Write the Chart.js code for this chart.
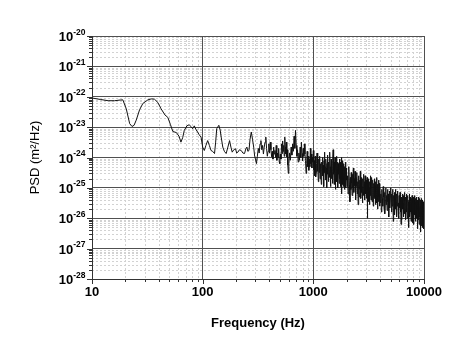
<!DOCTYPE html>
<html><head><meta charset="utf-8">
<script src="https://cdn.jsdelivr.net/npm/chart.js@4/dist/chart.umd.min.js"></script>
<style>html,body{margin:0;padding:0;background:#fff}#wrap{width:474px;height:355px}</style>
</head><body><div id="wrap"><canvas id="c" width="474" height="355"></canvas></div>
<script>
// ---- data ----
const freqHz = [
  10,12,14,16,18,19,20.4,21.9,23,24,
  25.1,26.9,28.8,32,34.3,36.7,39.3,42.1,45.7,48.4,
  51.2,53.7,57.9,61.2,63.6,66,68.2,72,75.7,78,
  81.2,84,87,90,93,96.7,100,103.5,107,111,
  115,119,123,128,131,134,140,144,147,152,
  157,163,169,175,180,185,191,198,203,208,
  215,223,231,239,245,251,256,262,268,275,
  282,289,295,
  300,306,312,318,324,330,336,342,348,354,
  360,366,372,378,384,390,396,402,408,414,
  420,426,432,438,444,450,456,462,468,474,
  480,486,492,498,504,510,516,522,528,534,
  540,546,552,558,564,570,576,582,588,594,
  600,610,620,630,640,650,660,670,680,690,
  700,710,720,730,740,750,760,770,780,790,
  800,810,820,830,840,850,860,870,880,890,
  900,910,920,930,940,950,960,970,980,990,
  1000,1010,1020,1030,1040,1050,1060,1070,1080,1090,
  1100,1110,1120,1130,1140,1150,1160,1170,1180,1190,
  1200,1210,1220,1230,1240,1250,1260,1270,1280,1290,
  1300,1310,1320,1330,1340,1350,1360,1370,1380,1390,
  1400,1410,1420,1430,1440,1450,1460,1470,1480,1490,
  1500,1510,1520,1530,1540,1550,1560,1570,1580,1590,
  1600,1610,1620,1630,1640,1650,1660,1670,1680,1690,
  1700,1710,1720,1730,1740,1750,1760,1770,1780,1790,
  1800,1810,1820,1830,1840,1850,1860,1870,1880,1890,
  1900,1910,1920,1930,1940,1950,1960,1970,1980,1990,
  2000,2020,2040,2060,2080,2100,2120,2140,2160,2180,
  2200,2220,2240,2260,2280,2300,2320,2340,2360,2380,
  2400,2420,2440,2460,2480,2500,2520,2540,2560,2580,
  2600,2620,2640,2660,2680,2700,2720,2740,2760,2780,
  2800,2820,2840,2860,2880,2900,2920,2940,2960,2980,
  3000,3020,3040,3060,3080,3100,3120,3140,3160,3180,
  3200,3220,3240,3260,3280,3300,3320,3340,3360,3380,
  3400,3420,3440,3460,3480,3500,3520,3540,3560,3580,
  3600,3620,3640,3660,3680,3700,3720,3740,3760,3780,
  3800,3820,3840,3860,3880,3900,3920,3940,3960,3980,
  4000,4040,4080,4120,4160,4200,4240,4280,4320,4360,
  4400,4440,4480,4520,4560,4600,4640,4680,4720,4760,
  4800,4840,4880,4920,4960,5000,5040,5080,5120,5160,
  5200,5240,5280,5320,5360,5400,5440,5480,5520,5560,
  5600,5640,5680,5720,5760,5800,5840,5880,5920,5960,
  6000,6040,6080,6120,6160,6200,6240,6280,6320,6360,
  6400,6440,6480,6520,6560,6600,6640,6680,6720,6760,
  6800,6840,6880,6920,6960,7000,7040,7080,7120,7160,
  7200,7240,7280,7320,7360,7400,7440,7480,7520,7560,
  7600,7640,7680,7720,7760,7800,7840,7880,7920,7960,
  8000,8040,8080,8120,8160,8200,8240,8280,8320,8360,
  8400,8440,8480,8520,8560,8600,8640,8680,8720,8760,
  8800,8840,8880,8920,8960,9000,9040,9080,9120,9160,
  9200,9240,9280,9320,9360,9400,9440,9480,9520,9560,
  9600,9640,9680,9720,9760,9800,9840,9880,9920,9960,
  10000
];
const psd = [
  9.1e-23,8.1e-23,7.4e-23,7.4e-23,7.8e-23,7.9e-23,4.0e-23,1.3e-23,1.05e-23,1.15e-23,
  1.7e-23,3.7e-23,6.0e-23,7.9e-23,8.5e-23,8.3e-23,6.5e-23,4.0e-23,2.5e-23,2.1e-23,
  1.2e-23,7.2e-24,6.6e-24,5.0e-24,3.2e-24,4.5e-24,7.8e-24,1.1e-23,1.2e-23,1.05e-23,
  8.9e-24,1.1e-23,8.3e-24,6.9e-24,5.6e-24,4.7e-24,2.2e-24,1.7e-24,2.5e-24,3.6e-24,
  2.5e-24,1.7e-24,1.6e-24,1.35e-24,3.2e-24,8.9e-24,1.15e-23,7.9e-24,4.7e-24,2.2e-24,
  1.6e-24,1.35e-24,2.2e-24,3.6e-24,2.2e-24,1.5e-24,1.8e-24,1.95e-24,1.4e-24,1.5e-24,
  1.8e-24,1.7e-24,1.4e-24,1.35e-24,1.9e-24,2.2e-24,1.6e-24,1.7e-24,4.0e-24,6.9e-24,
  4.0e-24,2.2e-24,1.1e-24,
  8.9e-25,6.3e-25,1.1e-24,2.0e-24,1.4e-24,2.8e-24,3.6e-24,1.8e-24,2.5e-24,1.3e-24,
  2.2e-24,3.2e-24,4.7e-24,2.0e-24,1.1e-24,1.6e-24,2.8e-24,1.4e-24,3.2e-24,1.8e-24,
  1.05e-24,1.6e-24,8.9e-25,2.2e-24,1.3e-24,1.7e-24,1.0e-24,2.5e-24,8.1e-25,1.4e-24,
  1.0e-24,2.0e-24,7.1e-25,6.3e-25,1.3e-24,8.9e-25,2.8e-24,1.35e-24,3.5e-24,1.6e-24,
  2.5e-24,1.1e-24,4.7e-24,2.2e-24,1.3e-24,3.2e-24,1.05e-24,1.8e-24,5.6e-25,3.0e-25,
  6.3e-25,1.4e-24,8.1e-25,2.2e-24,1.2e-24,2.8e-24,1.6e-24,5.0e-24,2.0e-24,7.8e-24,
  2.5e-24,1.1e-24,1.8e-24,7.1e-25,1.4e-24,8.1e-25,2.2e-24,1.0e-24,3.2e-24,1.35e-24,
  7.9e-25,2.0e-24,1.1e-24,2.8e-24,1.3e-24,7.9e-25,3.0e-25,6.3e-25,1.6e-24,5.0e-25,
  1.1e-24,3.8e-25,8.9e-25,5.0e-25,2.0e-24,6.3e-25,1.3e-24,4.5e-25,1.0e-24,7.1e-25,
  1.7e-24,4.0e-25,7.9e-25,2.5e-25,1.1e-24,2.3e-25,3.2e-25,6.3e-25,1.4e-24,3.5e-25,
  5.0e-25,1.6e-25,8.9e-25,3.2e-25,1.1e-24,2.0e-25,6.3e-25,4.0e-25,1.3e-25,7.1e-25,
  3.5e-25,1.0e-24,2.5e-25,5.6e-25,1.1e-25,7.9e-25,1.5e-24,3.2e-25,5.0e-25,1.8e-25,
  8.9e-25,4.5e-25,1.0e-25,6.3e-25,2.8e-25,1.2e-24,3.5e-25,1.6e-25,7.1e-25,4.0e-25,
  2.2e-25,1.5e-24,5.0e-25,1.1e-25,3.2e-25,8.9e-25,2.0e-25,6.3e-25,3.5e-25,1.4e-25,
  7.9e-25,1.8e-24,2.8e-25,4.5e-25,1.3e-25,7.1e-25,3.2e-25,1.0e-24,2.0e-25,8.9e-26,
  5.6e-25,3.5e-25,1.1e-24,1.6e-25,4.0e-25,7.1e-25,2.2e-25,1.0e-25,6.3e-25,2.8e-25,
  4.5e-25,1.4e-25,8.9e-25,3.2e-25,2.0e-25,7.1e-25,1.1e-25,5.0e-25,2.5e-25,1.0e-24,
  1.6e-25,6.3e-26,4.0e-25,2.8e-25,7.9e-25,1.3e-25,5.6e-25,2.2e-25,1.1e-25,6.3e-25,
  3.5e-25,8.9e-26,5.0e-25,2.0e-25,1.4e-25,7.1e-25,2.8e-25,1.0e-25,4.5e-25,1.8e-25,
  4.0e-25,1.1e-25,2.5e-25,6.3e-26,1.8e-25,5.0e-25,1.3e-25,3.5e-26,2.2e-25,8.9e-26,
  3.2e-25,1.4e-25,5.6e-26,2.8e-25,1.0e-25,4.5e-25,7.1e-26,2.0e-25,1.2e-25,3.5e-25,
  7.9e-26,4.0e-26,2.2e-25,1.1e-25,3.2e-25,6.3e-26,1.6e-25,2.8e-26,2.5e-25,1.3e-25,
  5.0e-26,1.8e-25,8.9e-26,3.5e-25,4.5e-26,1.4e-25,2.2e-25,7.1e-26,1.1e-25,3.2e-26,
  2.0e-25,1.0e-25,5.6e-26,2.8e-25,8.9e-26,1.6e-25,4.0e-26,2.5e-25,1.2e-25,6.3e-26,
  1.8e-25,4.5e-26,1.1e-25,2.2e-25,1.0e-26,7.9e-26,1.4e-25,3.5e-26,2.0e-25,6.3e-26,
  1.0e-25,2.8e-26,1.6e-25,5.6e-26,2.5e-25,8.9e-26,4.0e-26,1.3e-25,7.1e-26,2.2e-25,
  3.5e-26,1.1e-25,6.3e-26,1.8e-25,2.5e-26,8.9e-26,1.4e-25,4.5e-26,2.0e-25,7.9e-26,
  5.0e-26,1.2e-25,2.8e-26,1.6e-25,7.1e-26,4.0e-26,2.2e-25,1.0e-25,3.2e-26,1.3e-25,
  6.3e-26,2.0e-26,1.1e-25,8.9e-26,3.5e-26,1.8e-25,5.6e-26,1.4e-25,2.5e-26,7.9e-26,
  1.3e-25,3.2e-26,6.3e-26,1.6e-26,8.9e-26,4.5e-26,2.5e-26,1.1e-25,5.0e-26,2.0e-26,
  7.1e-26,1.4e-26,4.0e-26,1.0e-25,2.8e-26,5.6e-26,1.8e-26,8.9e-26,3.5e-26,6.3e-26,
  1.1e-26,4.5e-26,7.9e-26,2.2e-26,5.0e-26,1.0e-25,3.2e-26,1.6e-26,6.3e-26,2.5e-26,
  8.9e-26,4.0e-26,7.9e-27,5.6e-26,2.8e-26,7.1e-26,1.3e-26,4.5e-26,8.9e-26,2.0e-26,
  3.5e-26,1.1e-26,6.3e-26,2.5e-26,4.5e-26,7.9e-26,1.4e-26,3.2e-26,1.0e-26,5.6e-26,
  2.2e-26,4.0e-26,7.1e-26,1.6e-26,3.5e-26,6.3e-27,5.0e-26,2.8e-26,8.9e-27,4.5e-26,
  6.3e-26,2.0e-26,3.2e-26,1.1e-26,5.6e-26,2.5e-26,7.1e-26,1.4e-26,4.0e-26,2.2e-26,
  8.9e-27,5.0e-26,3.2e-26,1.6e-26,6.3e-26,2.8e-26,1.0e-26,4.5e-26,2.0e-26,5.6e-26,
  1.3e-26,3.5e-26,5.0e-27,4.0e-26,2.2e-26,6.3e-26,1.1e-26,2.8e-26,5.0e-26,1.6e-26,
  3.5e-26,7.9e-27,4.5e-26,2.5e-26,1.4e-26,5.6e-26,2.0e-26,7.1e-27,3.2e-26,1.8e-26,
  5.0e-26,1.1e-26,2.8e-26,6.3e-27,4.0e-26,2.2e-26,5.6e-26,1.3e-26,3.5e-26,1.8e-26,
  7.9e-27,4.5e-26,2.5e-26,1.0e-26,3.2e-26,5.0e-26,1.4e-26,2.2e-26,4.5e-27,4.0e-26,
  2.0e-26,3.5e-26,8.9e-27,2.8e-26,5.0e-26,1.6e-26,6.3e-27,3.2e-26,2.2e-26,4.5e-26,
  1.1e-26,2.5e-26,3.5e-27,4.0e-26,1.8e-26,5.6e-27,3.2e-26,2.0e-26,4.5e-26,1.3e-26,
  7.9e-27,2.8e-26,1.6e-26,4.0e-26,5.0e-27,2.2e-26,3.5e-26,1.1e-26,2.5e-26,4.5e-27,
  2.8e-26
];
const xMajorTicks = [10, 100, 1000, 10000];
const xTickLabels = ['10', '100', '1000', '10000'];
const yExponents = [-28, -27, -26, -25, -24, -23, -22, -21, -20];
const minorMultipliers = [2, 3, 4, 5, 6, 7, 8, 9];
const xTitle = 'Frequency (Hz)';
const yTitle = 'PSD (m\u00B2/Hz)';

const FONT = '"Liberation Sans", Arial, Helvetica, sans-serif';
const yMajorValues = yExponents.map(e => Number('1e' + e));
function minorsOf(majors) {
  const out = [];
  for (let i = 0; i < majors.length - 1; i++) minorMultipliers.forEach(m => out.push(majors[i] * m));
  return out;
}
const xMinorValues = minorsOf(xMajorTicks);
const yMinorValues = minorsOf(yMajorValues);

const decor = {
  id: 'decor',
  beforeDraw(chart) {
    const {ctx, chartArea: a, scales: {x, y}} = chart;
    ctx.save();
    ctx.strokeStyle = '#d2d2d2';
    ctx.lineWidth = 1;
    ctx.setLineDash([2, 2]);
    ctx.beginPath();
    xMinorValues.forEach(v => {
      const px = Math.round(x.getPixelForValue(v)) + 0.5;
      ctx.moveTo(px, a.top); ctx.lineTo(px, a.bottom);
    });
    yMinorValues.forEach(v => {
      const py = Math.round(y.getPixelForValue(v)) + 0.5;
      ctx.moveTo(a.left, py); ctx.lineTo(a.right, py);
    });
    ctx.stroke();
    ctx.restore();
  },
  afterDraw(chart) {
    const {ctx, chartArea: a, scales: {x, y}} = chart;
    ctx.save();
    ctx.strokeStyle = '#333';
    ctx.lineWidth = 1;
    ctx.beginPath();
    const xt = (v, len) => { const px = Math.round(x.getPixelForValue(v)) + 0.5; ctx.moveTo(px, a.bottom); ctx.lineTo(px, a.bottom + len); };
    const yt = (v, len) => { const py = Math.round(y.getPixelForValue(v)) + 0.5; ctx.moveTo(a.left, py); ctx.lineTo(a.left - len, py); };
    xMajorTicks.forEach(v => xt(v, 5));
    xMinorValues.forEach(v => xt(v, 3));
    yMajorValues.forEach(v => yt(v, 5));
    yMinorValues.forEach(v => yt(v, 3));
    ctx.stroke();
    // y tick labels: 10 with superscript exponent
    ctx.fillStyle = '#000';
    yExponents.forEach((e, i) => {
      const py = y.getPixelForValue(yMajorValues[i]);
      const sup = String(e);
      ctx.font = 'bold 8.5px ' + FONT;
      const sw = ctx.measureText(sup).width;
      const right = 85.5;
      ctx.textAlign = 'left'; ctx.textBaseline = 'alphabetic';
      ctx.fillText(sup, right - sw, py - 1.5);
      ctx.font = 'bold 13px ' + FONT;
      ctx.textAlign = 'right'; ctx.textBaseline = 'middle';
      ctx.fillText('10', right - sw, py + 1.5);
    });
    ctx.restore();
  }
};

new Chart(document.getElementById('c'), {
  type: 'line',
  data: {
    datasets: [{
      data: freqHz.map((f, i) => ({x: f, y: psd[i]})),
      borderColor: '#111',
      borderWidth: 1,
      pointRadius: 0,
      tension: 0,
      fill: false
    }]
  },
  options: {
    responsive: false,
    animation: false,
    events: [],
    layout: {padding: {left: 0, top: 36, right: 50, bottom: 0}},
    plugins: {legend: {display: false}, tooltip: {enabled: false}},
    scales: {
      x: {
        type: 'logarithmic',
        min: 10, max: 10000,
        afterBuildTicks: s => { s.ticks = xMajorTicks.map(v => ({value: v, major: true})); },
        afterFit: s => { s.height = 76; },
        grid: {color: '#505050', lineWidth: 1, drawTicks: false},
        border: {display: true, color: '#333', width: 1},
        ticks: {
          autoSkip: false, maxRotation: 0, padding: 6, color: '#000',
          font: {family: FONT, size: 13, weight: 'bold'},
          callback: (v, i) => xTickLabels[i]
        },
        title: {display: true, text: xTitle, color: '#000',
          font: {family: FONT, size: 13, weight: 'bold'}, padding: {top: 4, bottom: 24}}
      },
      y: {
        type: 'logarithmic',
        min: yMajorValues[0], max: yMajorValues[yMajorValues.length - 1],
        afterBuildTicks: s => { s.ticks = yMajorValues.map(v => ({value: v, major: true})); },
        afterFit: s => { s.width = 92; },
        grid: {color: '#505050', lineWidth: 1, drawTicks: false},
        border: {display: true, color: '#333', width: 1},
        ticks: {display: false},
        title: {display: true, text: yTitle, color: '#000',
          font: {family: FONT, size: 13, weight: 'normal'}, padding: {top: 28, bottom: 0}}
      }
    }
  },
  plugins: [decor]
});
</script>
</body></html>
